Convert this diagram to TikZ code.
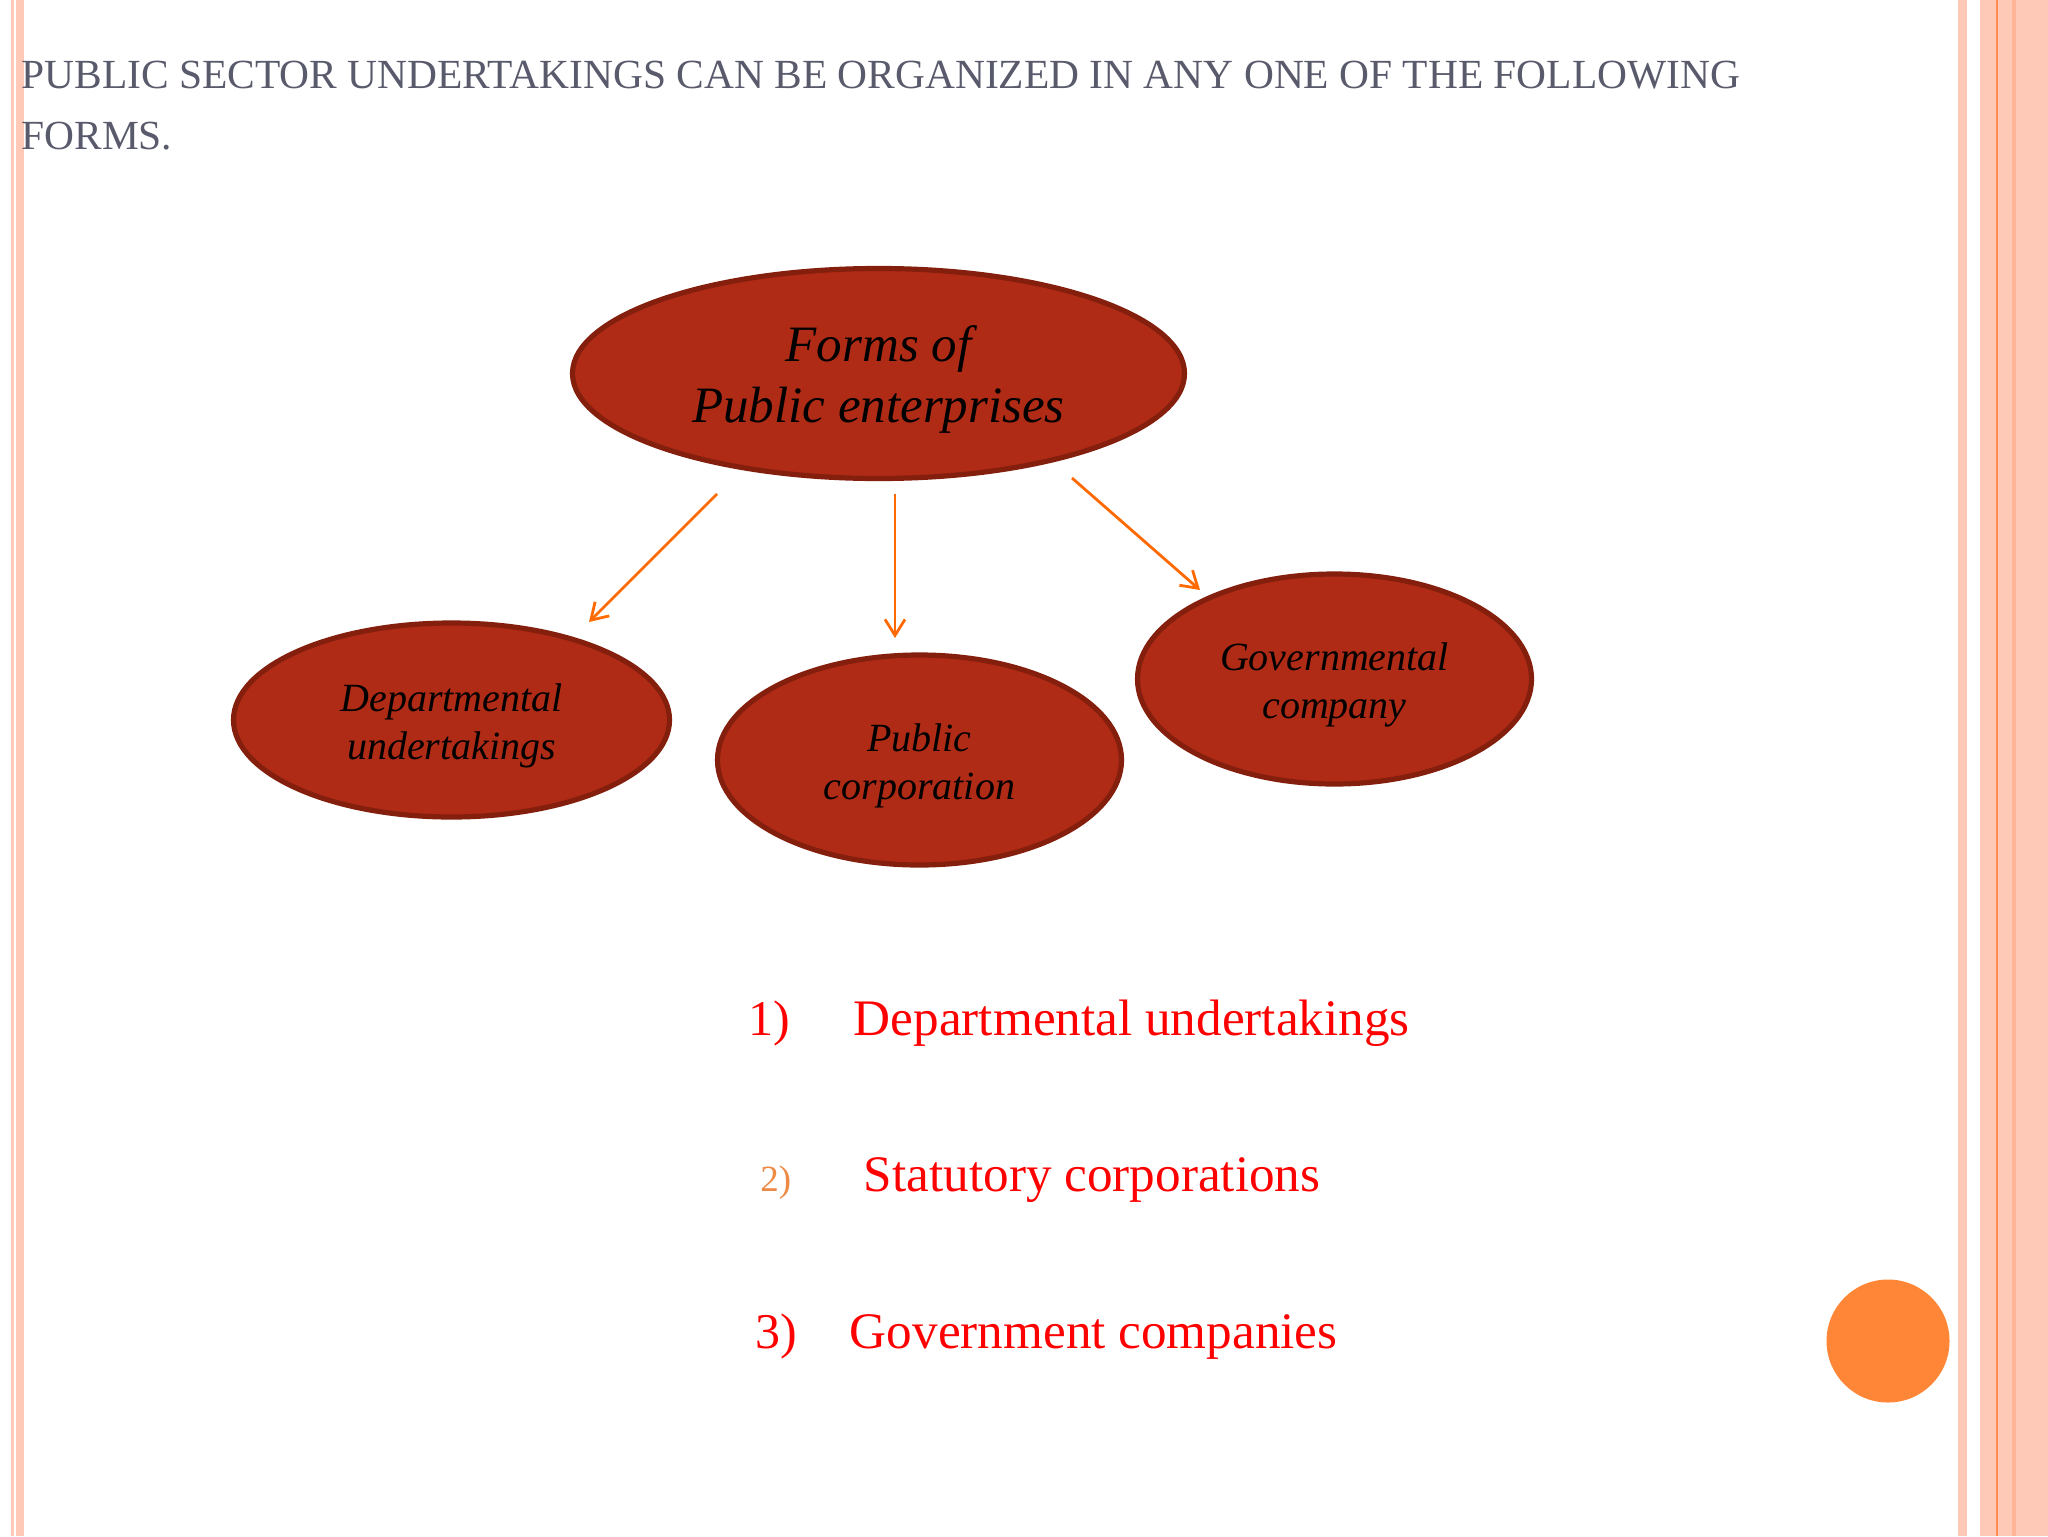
\documentclass[tikz,border=0pt]{standalone}
\usepackage{fontspec}
\setmainfont{Liberation Serif}
\usetikzlibrary{arrows.meta,shapes.geometric}
\definecolor{stripe}{HTML}{FFC9B8}
\definecolor{stripeline}{HTML}{FF8C50}
\definecolor{titlegray}{HTML}{595B6C}
\definecolor{formfill}{HTML}{B02B15}
\definecolor{formedge}{HTML}{841F0E}
\definecolor{arrowor}{HTML}{FF6A00}
\definecolor{listred}{HTML}{FF0000}
\definecolor{dotor}{HTML}{FF8636}
\definecolor{numor}{HTML}{ED8A45}
\newcommand{\lowstrut}[1]{\rule{0pt}{#1}}
\tikzset{
  bandv/.style={fill=stripe,draw=none},
  form/.style={ellipse,fill=formfill,draw=formedge,line width=2.6pt,inner sep=0pt,align=center},
  formtext/.style={font=\itshape\fontsize{20}{24}\selectfont,text=black},
  toptext/.style={font=\itshape\fontsize{25.5}{30.5}\selectfont,text=black},
  listtext/.style={anchor=base west,inner sep=0pt,text=listred,font=\fontsize{25.6}{30}\selectfont},
  listnum/.style={listtext,font=\fontsize{25}{30}\selectfont},
  flow/.style={draw=arrowor,line width=1.4pt,-{Straight Barb[length=8pt,width=10pt,line width=1.4pt]}}
}
\begin{document}
\begin{tikzpicture}[x=0.5pt,y=-0.5pt]
\useasboundingbox (0,0) rectangle (2048,1536);
\fill [white] (0,0) rectangle (2048,1536);
\fill [bandv] (10.5,0) rectangle (13.5,1536);
\fill [bandv] (16,0) rectangle (24,1536);
\fill [bandv] (1958,0) rectangle (1967,1536);
\fill [bandv] (1980,0) rectangle (2048,1536);
\fill [stripeline] (1995.5,0) rectangle (1997.5,1536);
\fill [stripeline,opacity=0.3] (2012,0) rectangle (2016,1536);
\node (dot) [circle,fill=dotor,draw=none,minimum size=61.5pt,inner sep=0pt] at (1888,1341) {};
\node (title) [anchor=north west,inner sep=0pt,align=left,text=titlegray,font=\fontsize{20.72}{30.5}\selectfont] at (21,60.5) {PUBLIC SECTOR UNDERTAKINGS CAN BE ORGANIZED IN ANY ONE OF THE FOLLOWING\\FORMS.};
\node (forms) [form,toptext,minimum width=306pt,minimum height=105pt] at (878.5,373.5) {\lowstrut{24pt}Forms of\\Public enterprises};
\node (dept) [form,formtext,minimum width=218pt,minimum height=97pt] at (451.5,720) {\lowstrut{20pt}Departmental\\undertakings};
\node (corp) [form,formtext,minimum width=202pt,minimum height=105pt] at (919.5,760) {\lowstrut{20pt}Public\\corporation};
\node (govt) [form,formtext,minimum width=197pt,minimum height=105pt] at (1334.5,679) {\lowstrut{20pt}Governmental\\company};
\coordinate (a1) at (717,494);
\coordinate (a2) at (589,622);
\coordinate (b1) at (895,494);
\coordinate (b2) at (895,638);
\coordinate (c1) at (1072,478);
\coordinate (c2) at (1200,590);
\draw [flow] (a1) -- (a2);
\draw [flow] (b1) -- (b2);
\draw [flow] (c1) -- (c2);
\node (num1) [listnum] at (748,1035) {1)};
\node (item1) [listtext] at (853.5,1035) {Departmental undertakings};
\node (num2) [listnum,text=numor,font=\fontsize{18.5}{20}\selectfont] at (760,1191.5) {2)};
\node (item2) [listtext] at (863.5,1191.5) {Statutory corporations};
\node (num3) [listnum] at (755.5,1348.5) {3)};
\node (item3) [listtext] at (849.5,1348.5) {Government companies};
\end{tikzpicture}
\end{document}
